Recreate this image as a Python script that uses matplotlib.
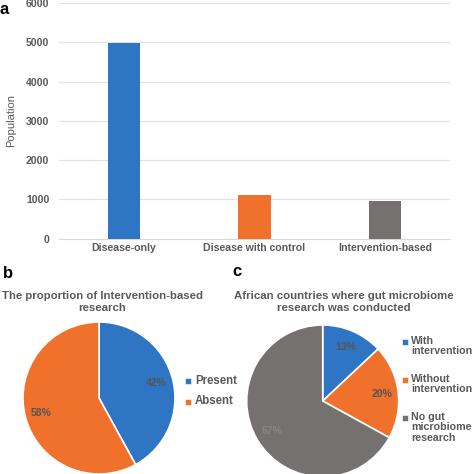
import matplotlib
matplotlib.use("Agg")
import matplotlib.pyplot as plt
from matplotlib.patches import Rectangle

plt.rcParams["font.family"] = ["Liberation Sans", "DejaVu Sans"]
plt.rcParams["font.weight"] = "bold"

TEXT = "#595959"
BLUE = "#2E75C4"
ORANGE = "#F0712C"
GRAY = "#767171"

# panel a
categories = ["Disease-only", "Disease with control", "Intervention-based"]
population = [4970, 1125, 955]
yticks = [0, 1000, 2000, 3000, 4000, 5000, 6000]

# panel b
b_labels = ["Present", "Absent"]
b_share = [42, 58]

# panel c
c_labels = ["With\nintervention", "Without\nintervention", "No gut\nmicrobiome\nresearch"]
c_share = [13, 20, 67]

W = 474.0


def side_legend(fig, wedges, labels, x, y_centers, fontsize, gap=10):
    # square swatch next to the first line of each label, like the office-style legend
    for w, lab, yc in zip(wedges, labels, y_centers):
        fig.patches.append(Rectangle((x / W, 1 - (yc + 3) / W), 6 / W, 6 / W,
                                     transform=fig.transFigure, facecolor=w.get_facecolor(),
                                     edgecolor="white", linewidth=0.4))
        fig.text((x + gap) / W, 1 - (yc - 6.5) / W, lab, fontsize=fontsize, color=TEXT,
                 ha="left", va="top", linespacing=1.12)


fig = plt.figure(figsize=(4.74, 4.74), dpi=100)

# ---- a: bar chart
ax = fig.add_axes([59 / W, 1 - 238.7 / W, 391 / W, (238.7 - 3) / W])
x = range(len(categories))
ax.bar(x, population, width=0.25, color=[BLUE, ORANGE, GRAY], zorder=3)
ax.set_xlim(-0.5, len(categories) - 0.5)
ax.set_ylim(0, 6000)
ax.set_yticks(yticks)
ax.set_xticks(list(x))
ax.set_xticklabels(categories)
ax.grid(axis="y", color="#e3e3e3", linewidth=0.9, zorder=0)
for s in ["top", "right", "left"]:
    ax.spines[s].set_visible(False)
ax.spines["bottom"].set_color("#d9d9d9")
ax.tick_params(length=0, labelsize=7.6, labelcolor=TEXT, pad=3)
ax.tick_params(axis="y", pad=7)
ax.set_ylabel("Population", fontsize=8, color=TEXT)
ax.yaxis.set_label_coords(-43 / 391, 0.5)
fig.text(0 / W, 1 - 2 / W, "a", fontsize=12, color="black", ha="left", va="top")

# ---- b: pie
axb = fig.add_axes([(99 - 76) / W, (W - 398 - 76) / W, 152 / W, 152 / W])
wb, tb, atb = axb.pie(b_share, colors=[BLUE, ORANGE], startangle=90, counterclock=False,
                      autopct="%d%%", pctdistance=0.78,
                      wedgeprops=dict(edgecolor="white", linewidth=1.2),
                      textprops=dict(fontsize=7.5, color="#555555", weight="bold"))
axb.set_xlim(-1, 1)
axb.set_ylim(-1, 1)
axb.set_aspect("equal")
fig.text(3 / W, 1 - 273 / W, "b", fontsize=12, color="black", ha="left", va="center")
fig.text(102 / W, 1 - 302 / W, "The proportion of Intervention-based\nresearch",
         fontsize=8.2, color=TEXT, ha="center", va="center", linespacing=1.15)
side_legend(fig, wb, b_labels, 185, [381, 402], 8.3)

# ---- c: pie
axc = fig.add_axes([(322.7 - 76) / W, (W - 401 - 76) / W, 152 / W, 152 / W])
wc, tc, atc = axc.pie(c_share, colors=[BLUE, ORANGE, GRAY], startangle=90, counterclock=False,
                      autopct="%d%%", pctdistance=0.78,
                      wedgeprops=dict(edgecolor="white", linewidth=1.2),
                      textprops=dict(fontsize=7.5, color="#555555", weight="bold"))
atc[2].set_color("#8a8585")
axc.set_xlim(-1, 1)
axc.set_ylim(-1, 1)
axc.set_aspect("equal")
fig.text(232 / W, 1 - 272 / W, "c", fontsize=12, color="black", ha="left", va="center")
fig.text(344 / W, 1 - 302 / W, "African countries where gut microbiome\nresearch was conducted",
         fontsize=8.2, color=TEXT, ha="center", va="center", linespacing=1.15)
side_legend(fig, wc, c_labels, 402, [342, 380, 418], 7.7, gap=9)

fig.savefig("out.png", dpi=100)
